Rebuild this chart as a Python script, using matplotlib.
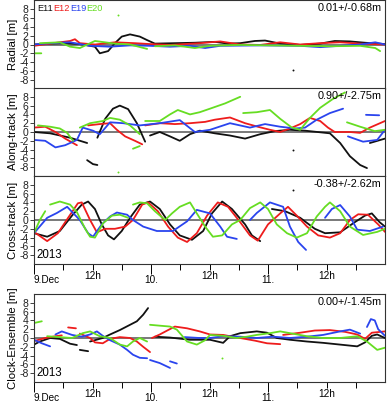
import numpy as np
from matplotlib import pyplot as plt

plt.rcParams['font.family'] = ['Liberation Sans', 'DejaVu Sans']
plt.rcParams['axes.unicode_minus'] = False

nan = np.nan

# time axis in hours since 9.Dec 2013 00:00
sat_names = ['E11', 'E12', 'E19', 'E20']
sat_colors = ['#111111', '#ee1c1c', '#2a44ee', '#66dd22']

# ---------------- Radial
radial_e11_t = [0, 3.3, 6.4, 9.4, 12.5, 13.5, 15.2, 16.6, 18, 19.7, 21.7, 23.2, 24.8, 28.9, 33, 37.1, 39.8, 42.3,
                45.3, 47.4, 50.5, 54.6, 58.7, 61.7, 64.8, 67.9, 72]
radial_e11_v = [0.0, 0.2, 0.3, 0.1, -0.5, -2.0, -1.5, 0.3, 1.8, 2.3, 1.8, 1.0, 0.2, 0.3, 0.4, 0.6, 0.2, 0.3,
                0.8, 0.9, 0.2, -0.1, 0.2, 0.8, 0.7, 0.4, 0.1]
radial_e12_t = [0, 3.3, 5.3, 7.4, 8.4, 9.4, 12.5, 16.6, 20.7, 23.8, 27.9, 34, 38.2, 42.3, 46.4, 50.5, 54.6, 58.7,
                62.8, 66.9, 72]
radial_e12_v = [-0.3, 0.2, 0.5, 0.8, 1.2, 0.3, 0.0, 0.5, 0.3, 0.1, -0.1, 0.3, 0.7, 0.0, -0.1, 0.5, 0.0, 0.3,
                0.5, 0.2, 0.0]
radial_e19_t = [0, 3.3, 7.4, 11.5, 15.6, 19.7, 23.8, 27.9, 32, 35.1, 38.2, 46.4, 54.6, 58.7, 62.8, 66.9, 70, 72]
radial_e19_v = [0.0, 0.3, 0.5, -0.3, -0.5, -0.2, -0.3, -0.5, -0.3, -0.8, -0.3, -0.2, -0.3, -0.6, -0.3, 0.0, 0.5, 0.0]
radial_e20_t = [0, 1.5, nan, 1.2, 5.3, 7.4, 9.4, 12.5, 16.6, 19.7, 23.2, nan, 24.8, 28.9, 33, 36.1, 42.3, 48.4,
                54.6, 60.7, 66.9, 70, 71]
radial_e20_v = [-2.0, -2.0, nan, 0.3, 0.5, -0.5, -0.8, 0.8, 0.2, 0.0, -1.0, nan, -0.4, -0.2, -0.8, -0.3, -0.1, -0.2,
                -0.3, -0.4, -0.3, -0.8, -1.5]
radial_out_t = [17.2, 53.1]
radial_out_v = [6.8, -5.7]
radial_out_c = [3, 0]

# ---------------- Along-track
along_e11_t = [0, 3.3, 7.4, 10.9, nan, 10.9, 12.1, 13, nan, 13, 14.6, 16.2, 17.6, 19.3, 21.1, 22.8, nan, 23.8, 25.8,
               27.9, 29.9, 32, 34, 37.1, 40.2, 43.3, 46.4, 49.4, 52.5, 55.6, 60.7, 62.8, 64.8, 66.9, 68.3, nan,
               68.9, 72]
along_e11_v = [0.0, -0.3, -1.3, -2.5, nan, -6.4, -7.3, -7.5, nan, -1.3, 3.0, 5.3, 6.0, 5.2, 2.0, -2.2, nan, -0.8, 0.0,
               -1.0, -2.0, -0.5, 0.3, -0.3, -0.8, -1.5, -0.5, 0.2, 0.5, 0.3, -0.3, -2.5, -5.5, -7.5, -8.2, nan,
               -2.5, -1.5]
along_e12_t = [0, 2.3, 4.4, 6.4, 8.8, nan, 11.1, 13.5, 15.6, 17.0, 18.7, 20.7, 22.2, nan, 22.8, 25.8, 28.9, 32,
               35.1, 37.1, 40.2, 43.3, 45.9, 48.4, 50.5, 52.5, 54.6, 56.6, 58.7, 60.3, 61.7, 64.8, 66.9, 68.9, 72]
along_e12_v = [1.0, 1.2, 0.0, -1.5, -3.0, nan, 1.5, 1.8, 2.0, 0.5, -1.0, -2.0, -2.8, nan, 1.5, 2.0, 1.8, 2.0,
               2.3, 2.8, 3.3, 2.0, 1.2, 0.5, 0.0, 0.8, 1.8, 3.2, 2.5, 1.0, 0.0, 0.0, -0.2, 1.0, 2.5]
along_e19_t = [0, 2.3, 4.4, 6.4, 8.8, 10, 12.1, 13.5, 15.6, 18.3, 21.7, 25.8, 29.9, 33, 36.1, 40.2, 44.3, 47.4,
               50.5, 53.6, 55.6, 58, 60.7, 63.4, nan, 64.4, 67.5, 70.4, 72, nan, 68.1, 70.8]
along_e19_v = [-1.8, -2.0, -3.5, -3.0, -1.8, 1.0, 0.3, -0.5, 2.2, 2.0, 1.5, 2.0, 2.7, 0.0, 0.5, 2.0, 1.0, 1.8,
               1.2, 0.8, 1.0, 2.8, 4.3, 5.3, nan, -1.0, -2.2, -1.8, 0.5, nan, 3.9, 3.8]
along_e20_t = [0.8, 3.3, 5.3, 6.8, 8.0, nan, 9.4, 11.5, 14.1, 15.6, 17.6, 19.7, 21.7, nan, 20.3, 21.7, nan, 22.8,
               25.8, 27.9, 29.5, 32, 34, 36.1, 39.2, 42.3, nan, 42.9, 45.7, 48.4, 50.5, 52.9, 54.6, 56.6, 58.7,
               61.3, 63.8, nan, 64.2, 66.9, 69.9, 72]
along_e20_v = [1.5, 1.2, 0.8, -0.2, -2.0, nan, 1.0, 2.0, 2.5, 3.2, 2.8, 1.5, -0.5, nan, -3.8, -3.2, nan, 2.5,
               2.5, 4.0, 5.0, 4.0, 4.5, 5.3, 6.5, 8.0, nan, 4.3, 4.5, 5.0, 3.0, 1.0, 0.5, 3.2, 5.5,
               7.5, 9.0, nan, 2.2, 1.2, 0.2, 0.5]
along_out_t = [17.2, 53.1]
along_out_v = [-9.0, -4.0]
along_out_c = [3, 0]

# ---------------- Cross-track
cross_e11_t = [0, 2.7, 5.3, 7.8, 9.8, 11.1, 12.5, 13.9, 15.2, 16.4, 18.0, 19.7, 21.7, 23.8, 25.8, 27.9, 29.9, 32.4,
               34.7, 36.5, 38.6, 40.6, 43.3, 44.7, 46.4, nan, 48.8, 51.5, 54.6, 57.6, 59.7, 62.8, 65.8, 67.9,
               69.3, 70.9, 72]
cross_e11_v = [-3.0, -3.8, -2.5, 1.0, 3.5, 4.2, 2.5, -1.0, -3.5, -4.4, -2.5, 0.5, 3.5, 4.2, 2.5, -1.0, -3.5, -4.5,
               -2.5, 1.5, 4.2, 2.5, -1.0, -3.5, -4.8, nan, 2.5, 2.0, 0.5, -2.0, -3.0, -2.8, -0.5, 1.0,
               1.5, -0.5, -1.5]
cross_e12_t = [0, 2.7, 4.9, 7.0, 9.0, 9.8, 11.5, 12.9, 14.6, 16.6, 18.7, 20.3, 22.2, 23.4, 25.4, 27.5, 29.5, 31.4,
               33.4, 35.5, 37.7, 39.8, 42.3, 44.3, 45.9, 48.0, 50.5, 52.1, 53.9, 56.0, 58.3, 60.7, 62.8, 64.8,
               66.5, 68.5, 70.6, 72]
cross_e12_v = [-2.7, -4.8, -3.0, 0.5, 3.8, 4.0, 0.0, -2.8, -2.0, -2.0, -1.5, 0.0, 3.5, 4.0, 2.0, -1.5, -4.0, -5.0,
               -3.0, 1.0, 4.0, 3.0, -0.5, -3.5, -4.7, -1.0, 1.5, 3.0, 1.0, -1.5, -3.5, -4.0, -3.0, 0.0,
               1.3, 1.2, -1.0, -2.7]
cross_e19_t = [0, 2.7, 4.7, 6.8, 9.4, 11.1, 12.1, 13.9, 15.6, 17.0, 19.1, 20.3, 22.4, 25.2, 28.5, 31.4, 33.4, 36.1,
               38.2, 39.6, 41.6, nan, 44.3, 45.7, 48.4, 51.1, 52.5, 54.2, 55.8, nan, 59.7, 61.1, 62.8, 64.8,
               66.3, 68.9, 71.6]
cross_e19_v = [-3.0, 0.5, 1.6, 3.0, 0.0, -3.0, -3.8, -1.0, 0.8, 1.7, 1.2, 0.0, -1.5, -2.5, -2.5, -0.3, 2.3, 1.5,
               -1.5, -3.8, -4.3, nan, 0.0, 1.6, 4.0, 3.0, -1.5, -5.0, -6.8, nan, 0.5, 2.5, 3.4, 0.8,
               -2.2, -2.5, -1.5]
cross_e20_t = [0, 1.2, 2.3, nan, 3.3, 5.3, 7.4, 8.8, 10.5, 11.5, 12.5, 14.2, 16.0, 17.6, 19.3, nan, 20.3, 21.7,
               23.2, 24.8, 26.9, 28.3, 29.9, 32, 33.4, 35.1, 36.7, 38.6, 40.6, 42.3, 44.3, 46.4, 48.0, 49.8,
               51.9, 53.9, 56.0, 58.0, 59.7, 60.7, 62.8, 64.8, 67.5, 70.4, 72]
cross_e20_v = [-3.0, 0.0, 2.0, nan, 3.5, 4.2, 3.5, 1.8, -2.0, -3.8, -4.0, -0.7, 1.0, 1.2, 0.5, nan, 3.5, 4.0,
               3.8, 2.0, 0.0, 1.5, 3.0, 4.0, 1.5, -1.5, -3.8, -3.5, -1.0, 0.0, 2.7, 4.0, 2.5, -1.0,
               -3.0, -4.0, -3.0, 0.8, 3.0, 4.0, 2.0, -1.5, -3.4, -2.7, -2.0]
cross_out_t = [53.1]
cross_out_v = [6.8]
cross_out_c = [0]

# ---------------- Clock-Ensemble
clock_e11_t = [0, 1.2, 3.3, 5.3, 7.4, 8.8, nan, 9.4, 11.1, nan, 11.5, 14.1, 15.6, 17.6, 19.7, 21.1, 22.4, 23.4, nan,
               24.8, 27.9, 32, 36.1, 38.8, 40.2, 42.3, 45.7, 47.8, 49.8, 52.5, 56.0, 59.3, 62.8, 66.3, 67.9,
               69.3, 70.4, 72]
clock_e11_v = [-1.5, -0.8, 0.0, -0.2, -1.3, -1.6, nan, -2.7, -3.0, nan, -0.8, 0.0, 0.8, 1.8, 3.0, 3.8, 5.3, 6.8, nan,
               0.3, 0.1, -0.4, -0.4, -1.1, 0.4, 1.1, 1.5, 1.2, 0.0, -0.4, -0.8, -1.1, -1.5, -1.9, -1.0,
               0.5, 0.8, 0.0]
clock_e12_t = [0, 2.3, 4.4, 5.7, nan, 7.0, 8.6, nan, 9.4, 11.5, 12.5, 14.1, 15.6, 17.6, 19.7, 21.1, 22.4, 23.8, nan,
               24.2, 25.8, 27.5, 28.9, 31.4, 34, 36.1, 38.8, 41.2, 43.3, 45.3, 47.8, 50.5, nan, 51.1, 54.6,
               57.6, 60.7, 63.8, 66.3, 67.9, 69.3, 72]
clock_e12_v = [-0.7, 0.0, 0.4, 0.6, nan, 2.4, 2.2, nan, 1.0, 0.0, -1.0, -1.2, -0.2, 0.2, 0.0, -0.8, -2.0, -3.2, nan,
               0.0, 0.8, 1.8, 2.6, 2.2, 1.5, 0.8, 0.7, 0.2, -0.2, -0.6, -1.2, -1.4, nan, 0.7, 1.2,
               1.7, 1.8, 1.4, 0.8, -0.2, 1.2, 1.5]
clock_e19_t = [0, 1.6, 3.3, nan, 4.4, 5.7, 7.8, 9.8, 11.5, 12.9, 14.1, 15.6, 17.6, 19.1, 20.3, 21.7, 23.2, nan,
               23.8, 25.8, 27.9, nan, 27.9, 29.3, nan, 30.9, 34, 36.1, 38.8, 42.3, 45.7, 49.0, 52.5, 56.0,
               59.3, 62.8, 64.8, 66.9, nan, 68.3, 69.1, 69.9, 70.6, 72]
clock_e19_v = [-0.4, -1.2, -1.9, nan, 0.8, 1.5, 0.7, 0.3, 0.8, 1.5, 0.5, -0.5, -1.5, -2.7, -3.8, -4.5, -4.6, nan,
               -5.0, -5.7, -6.8, nan, -5.3, -5.8, nan, 0.2, 0.0, 0.0, 0.4, 0.3, 0.0, 0.3, 0.0, 0.3,
               0.7, 1.5, 1.9, 1.0, nan, 2.5, 4.3, 4.0, 2.0, 0.5]
clock_e20_t = [0, 1.6, nan, 2.7, 5.3, 7.8, 10.0, 11.5, 13.5, 15.6, 17.6, 19.1, 20.3, 21.7, 23.2, nan, 23.8, 25.8,
               27.9, 29.3, 31.4, 33.4, 35.1, 36.1, 38.8, 41.6, 43.7, 45.7, 48.4, 50.5, 52.5, 56.0, 59.3, 62.8,
               66.3, 68.3, 70.4, 72]
clock_e20_v = [3.4, 3.8, nan, 0.4, 0.2, 0.0, 1.1, 1.5, 0.4, 0.0, -1.5, -1.9, -0.8, 0.0, -0.8, nan, 3.0, 2.8,
               2.6, 1.9, -0.8, -1.5, -0.5, 0.7, 0.5, 0.0, 0.3, 0.7, 1.1, 1.5, 1.1, 0.4, 0.0, 0.0,
               0.4, -0.8, -2.7, -2.2]
clock_out_t = [38.6]
clock_out_v = [-4.5]
clock_out_c = [3]

stats = ['0.01+/-0.68m', '0.90+/-2.75m', '-0.38+/-2.62m', '0.00+/-1.45m']
ylabels = ['Radial [m]', 'Along-track [m]', 'Cross-track [m]', 'Clock-Ensemble [m]']
yticks = [-8, -6, -4, -2, 0, 2, 4, 6, 8]
day_ticks = [0, 24, 48]
day_labels = ['9.Dec', '10.', '11.']
hour_ticks = [6, 12, 18, 30, 36, 42, 54, 60, 66]
hour_labels = ['', '12h', '', '', '12h', '', '', '12h', '']

panels = [
    ([radial_e11_t, radial_e12_t, radial_e19_t, radial_e20_t],
     [radial_e11_v, radial_e12_v, radial_e19_v, radial_e20_v],
     (radial_out_t, radial_out_v, radial_out_c)),
    ([along_e11_t, along_e12_t, along_e19_t, along_e20_t],
     [along_e11_v, along_e12_v, along_e19_v, along_e20_v],
     (along_out_t, along_out_v, along_out_c)),
    ([cross_e11_t, cross_e12_t, cross_e19_t, cross_e20_t],
     [cross_e11_v, cross_e12_v, cross_e19_v, cross_e20_v],
     (cross_out_t, cross_out_v, cross_out_c)),
    ([clock_e11_t, clock_e12_t, clock_e19_t, clock_e20_t],
     [clock_e11_v, clock_e12_v, clock_e19_v, clock_e20_v],
     (clock_out_t, clock_out_v, clock_out_c)),
]

W, H = 388, 407
fig = plt.figure(figsize=(W / 100, H / 100), dpi=100)
left = 34 / W
width = 351 / W
tops = [0.5, 88, 176, 294]
ph = 88

for i, (ts, vs, outl) in enumerate(panels):
    top = tops[i]
    ax = fig.add_axes([left, 1 - (top + ph) / H, width, ph / H])
    ax.axhline(0, color='#555555', lw=1.1, zorder=1)
    for k in range(4):
        ax.plot(ts[k], vs[k], color=sat_colors[k], lw=1.3, solid_capstyle='round', zorder=2 + k * 0.1)
    ot, ov, oc = outl
    for t, v, c in zip(ot, ov, oc):
        ax.plot([t], [v], 'o', color=sat_colors[c], ms=1.4, mew=0)
    ax.set_xlim(0, 72)
    ax.set_ylim(-10, 10)
    ax.set_yticks(yticks)
    ax.tick_params(axis='y', labelsize=7.5, length=3, width=0.6, pad=1, colors='#222222')
    ax.set_ylabel(ylabels[i], fontsize=8.2, labelpad=0)
    ax.yaxis.set_label_coords(-0.047, 0.5)
    for s in ax.spines.values():
        s.set_linewidth(0.8)
        s.set_color('#333333')
    ax.text(0.99, 0.97, stats[i], transform=ax.transAxes, ha='right', va='top', fontsize=7.8)
    if i in (2, 3):
        ax.set_xticks(day_ticks)
        ax.set_xticklabels(day_labels)
        ax.set_xticks(hour_ticks, minor=True)
        ax.set_xticklabels(hour_labels, minor=True)
        ax.tick_params(axis='x', which='major', length=7.5, width=0.7, pad=0.5, labelsize=7.2)
        ax.tick_params(axis='x', which='minor', length=4.5, width=0.7, pad=0.5, labelsize=7.2)
        ax.get_xticklabels()[0].set_horizontalalignment('left')
        ax.text(0.008, 0.03, '2013', transform=ax.transAxes, ha='left', va='bottom', fontsize=8.3)
    else:
        ax.tick_params(axis='x', which='both', bottom=False, labelbottom=False)
    if i == 0:
        xs = [0.008, 0.055, 0.102, 0.150]
        for k in range(4):
            ax.text(xs[k], 0.965, sat_names[k], transform=ax.transAxes, ha='left', va='top',
                    fontsize=6.6, color=sat_colors[k],
                    family=['Liberation Sans Narrow', 'Liberation Sans', 'DejaVu Sans'])

fig.savefig('out.png', dpi=100)
